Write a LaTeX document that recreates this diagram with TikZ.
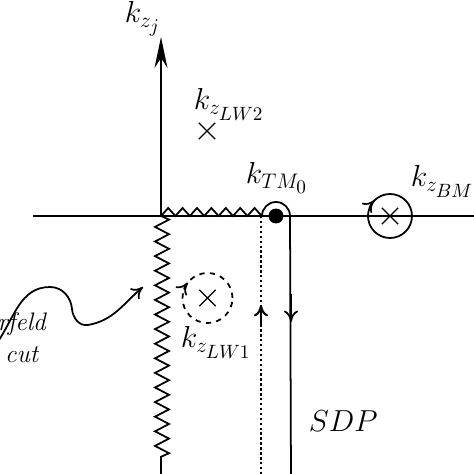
\documentclass[tikz,border=0pt]{standalone}
\usepackage{amsmath,amssymb}
\usepackage{tikz}
\usetikzlibrary{arrows.meta,shapes.misc}
\DeclareMathSizes{17.28}{17.28}{13}{11}

\begin{document}
\begin{tikzpicture}[x=0.02cm, y=0.02cm, line width=1pt,
  pole/.style={draw, cross out, line width=0.8pt,
               minimum size=0.3cm, inner sep=0pt},
  lbl/.style={font=\LARGE, anchor=base west, inner sep=0pt},
  tip/.style={-{To[length=6.5pt, width=8pt]}},
  dots/.style={line width=1.2pt, dash pattern=on 1.4pt off 1.4pt},
  ]
  \useasboundingbox (0,0) rectangle (474,474);

  \coordinate (origin) at (161,258);
  \coordinate (xleft) at (33,258);
  \coordinate (xright) at (480,258);
  \coordinate (ytop) at (161,437);
  \coordinate (cutfrom) at (-3,131);
  \coordinate (cutto) at (143,187);

  \node[pole] (lw2) at (207,343) {};
  \node[pole] (lw1) at (207.5,176) {};
  \node[pole] (bm) at (390,258) {};
  \node[circle, fill, inner sep=0pt, minimum size=0.3cm] (tm0) at (276,258) {};

  \draw (xleft) -- (xright);
  \draw[-{Stealth[length=0.62cm, width=0.26cm]}] (origin) -- (ytop);

  \draw (origin) \foreach \i in {1,...,7} {-- ++(7.2,8) -- ++(7.2,-8)};
  \draw (origin) -- ++(8,-3.6) \foreach \i in {1,...,16} {-- ++(-14,-7.3) -- ++(14,-7.3)}
    -- ++(-8,-3.6) -- ++(0,-30);

  \draw[dashed] (lw1) circle[radius=25];
  \draw[tip] ([shift={(160:25)}]lw1.center) arc[start angle=160, end angle=142, radius=25];
  \draw (bm) circle[radius=22];
  \draw[tip] ([shift={(157:22)}]bm.center) arc[start angle=157, end angle=135, radius=22];

  \draw ([xshift=-0.28cm]tm0.center) arc[start angle=180, end angle=0, radius=14] -- (291,-5);
  \draw[tip] (291,180) -- (291,152);
  \draw[dots] (261,258) -- (261,-5);
  \draw[dots, tip] (261,150) -- (261,169);

  \draw[tip] (cutfrom) to[out=55,in=180] (50,187) to[out=0,in=95] (72,165)
    to[out=-85,in=190] (88,149) to[out=10,in=220] (cutto);

  \node[lbl] (kzj) at (124,451) {$k_{z_j}$};
  \node[lbl] (klw2) at (193,364) {$k_{z_{LW2}}$};
  \node[lbl] (klw1) at (180,126) {$k_{z_{LW1}}$};
  \node[lbl] (ktm0) at (245,290) {$k_{TM_0}$};
  \node[lbl] (kbm) at (410,287) {$k_{z_{BM}}$};
  \node[lbl] (sdp) at (308,42) {$SDP$};
  \node[lbl, font=\Large, anchor=base east, align=right] (cutlbl) at (48,112)
    {\textit{Sommerfeld}\\\textit{cut}\hspace*{0.16cm}};
\end{tikzpicture}
\end{document}
